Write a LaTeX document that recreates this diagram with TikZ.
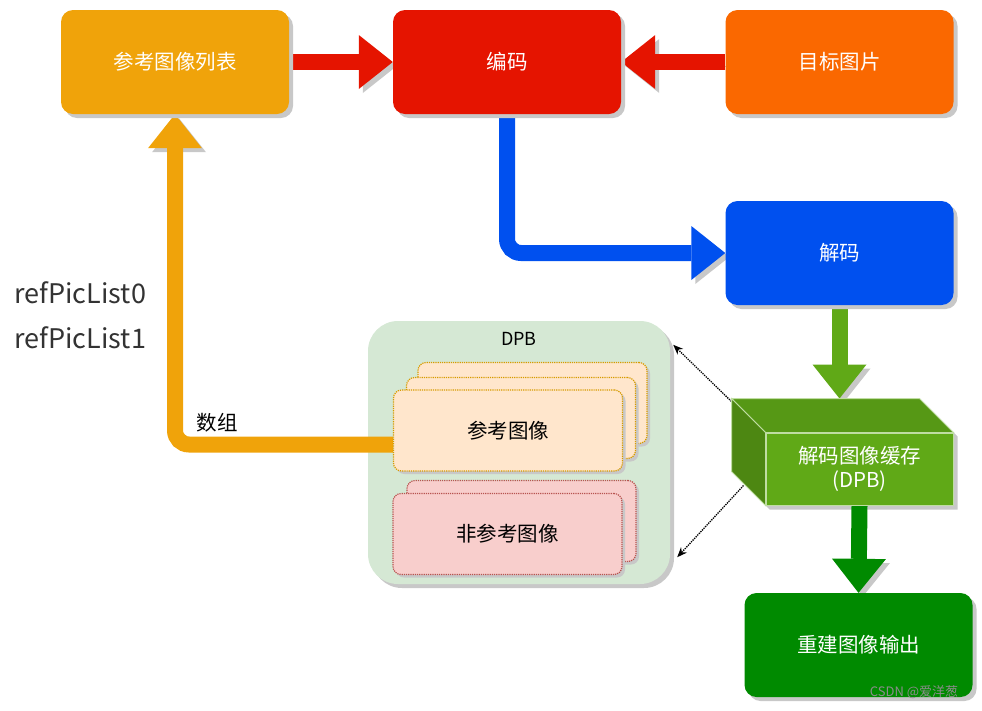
\documentclass[tikz,border=0pt]{standalone}
\usepackage{fontspec}
\setmainfont{Noto Sans CJK SC}
\usetikzlibrary{arrows.meta,shadows,positioning,calc}
\pgfdeclarelayer{back}
\pgfdeclarelayer{bg}
\pgfsetlayers{back,bg,main}

\begin{document}
\begin{tikzpicture}[x=1pt,y=-1pt,font=\fontsize{20.5}{24}\selectfont,
        box/.style={rounded corners=12pt,minimum width=228pt,minimum height=104pt,text=white,
                drop shadow={shadow xshift=4pt,shadow yshift=-4pt,fill=shd,opacity=1}},
        card/.style={rounded corners=8pt,minimum width=229pt,minimum height=81pt,densely dotted,line width=1.2pt,
                drop shadow={shadow xshift=3pt,shadow yshift=-3pt,fill=shd,opacity=1}},
        blk/.style={line width=16pt,-{Triangle[width=54pt,length=34pt,line width=0pt]},
                preaction={draw=shd,transform canvas={xshift=4pt,yshift=-4pt}}},
        ptr/.style={densely dotted,line width=1.3pt,-{Stealth[length=10pt,width=8pt]}}]

    \definecolor{shd}{RGB}{200,200,200}
    \definecolor{listc}{HTML}{F0A30A}
    \definecolor{encc}{HTML}{E51400}
    \definecolor{tgtc}{HTML}{FA6800}
    \definecolor{decc}{HTML}{0050EF}
    \definecolor{cachec}{HTML}{60A917}
    \definecolor{outc}{HTML}{008A00}
    \definecolor{dpbc}{HTML}{D5E8D4}
    \definecolor{refc}{HTML}{FFE6CC}
    \definecolor{refl}{HTML}{D79B00}
    \definecolor{nrc}{HTML}{F8CECC}
    \definecolor{nrl}{HTML}{B85450}
    \definecolor{txtc}{HTML}{333333}

    \useasboundingbox (0,0) rectangle (982,710);

    % top row
    \node[box,fill=listc] (reflist) at (175,62) {参考图像列表};
    \node[box,fill=encc] (encode) at (507,62) {编码};
    \node[box,fill=tgtc] (target) at (839.5,62) {目标图片};
    \node[box,fill=decc] (decode) at (839.5,253) {解码};
    \node[box,fill=outc] (recon) at (858.5,645) {重建图像输出};

    % DPB
    \begin{pgfonlayer}{back}
        \node[fill=dpbc,rounded corners=30pt,minimum width=302pt,minimum height=263pt,
            drop shadow={shadow xshift=4pt,shadow yshift=-4pt,fill=shd,opacity=1}] (dpb) at (519,452.5) {};
    \end{pgfonlayer}
    \node[below=8pt of dpb.north,font=\fontsize{18}{20}\selectfont] (dpbname) {DPB};

    \node[card,fill=refc,draw=refl] (ref3) at (532.5,403) {};
    \node[card,fill=refc,draw=refl] (ref2) at (521,418) {};
    \node[card,fill=refc,draw=refl] (ref1) at (508,430.5) {参考图像};
    \node[card,fill=nrc,draw=nrl] (nonref2) at (521.5,521) {};
    \node[card,fill=nrc,draw=nrl] (nonref1) at (507.5,534) {非参考图像};

    % cube
    \node[fill=cachec,draw=white!60!cachec,line width=1pt,minimum width=187pt,minimum height=72pt,
        text=white,align=center] (cache) at (859.5,469) {解码图像缓存\\(DPB)};
    \coordinate (cachetop) at ($(cache.north)+(0,-34)$);
    \fill[cachec!90!black,draw=white!60!cachec,line width=1pt] (cache.north west) -- ++(-34,-34)
        -- ($(cache.north east)+(-34,-34)$) -- (cache.north east) -- cycle;
    \fill[cachec!80!black,draw=white!60!cachec,line width=1pt] (cache.north west) -- ++(-34,-34)
        -- ($(cache.south west)+(-34,-34)$) -- (cache.south west) -- cycle;

    \node[font=\fontsize{27}{30}\selectfont,text=txtc,anchor=west] (list0) at (11,293) {refPicList0};
    \node[font=\fontsize{27}{30}\selectfont,text=txtc,anchor=west] (list1) at (11,338) {refPicList1};
    \node (arr) at (217,423) {数组};
    \node[font=\fontsize{13}{15}\selectfont,text=black!45] (mark) at (914,692) {CSDN @爱洋葱};

    \begin{pgfonlayer}{bg}
        \fill[shd,transform canvas={xshift=4pt,yshift=-4pt}] ($(cache.north west)+(-34,-34)$)
            -- ($(cache.north east)+(-34,-34)$) -- (cache.north east) -- (cache.south east)
            -- (cache.south west) -- ($(cache.south west)+(-34,-34)$) -- cycle;

        \draw[blk,draw=encc] (reflist.east) -- (encode.west);
        \draw[blk,draw=encc] (target.west) -- (encode.east);
        \draw[blk,draw=decc,rounded corners=14pt] (encode.south) |- (decode.west);
        \draw[blk,draw=cachec] (decode.south) -- (decode.south |- cachetop);
        \draw[blk,draw=outc] (cache.south) -- (recon.north);
        \draw[blk,draw=listc,rounded corners=14pt] ($(ref1.west)+(0,14)$) -| (reflist.south);

        \coordinate (c1) at ($(cache.north west)+(-34,-31)$);
        \coordinate (d1) at ($(dpb.north east)+(3,24)$);
        \coordinate (c2) at ($(cache.south west)+(-22,-20)$);
        \coordinate (d2) at ($(dpb.south east)+(7,-27)$);
        \draw[ptr] (c1) -- (d1);
        \draw[ptr] (c2) -- (d2);
    \end{pgfonlayer}

\end{tikzpicture}
\end{document}
